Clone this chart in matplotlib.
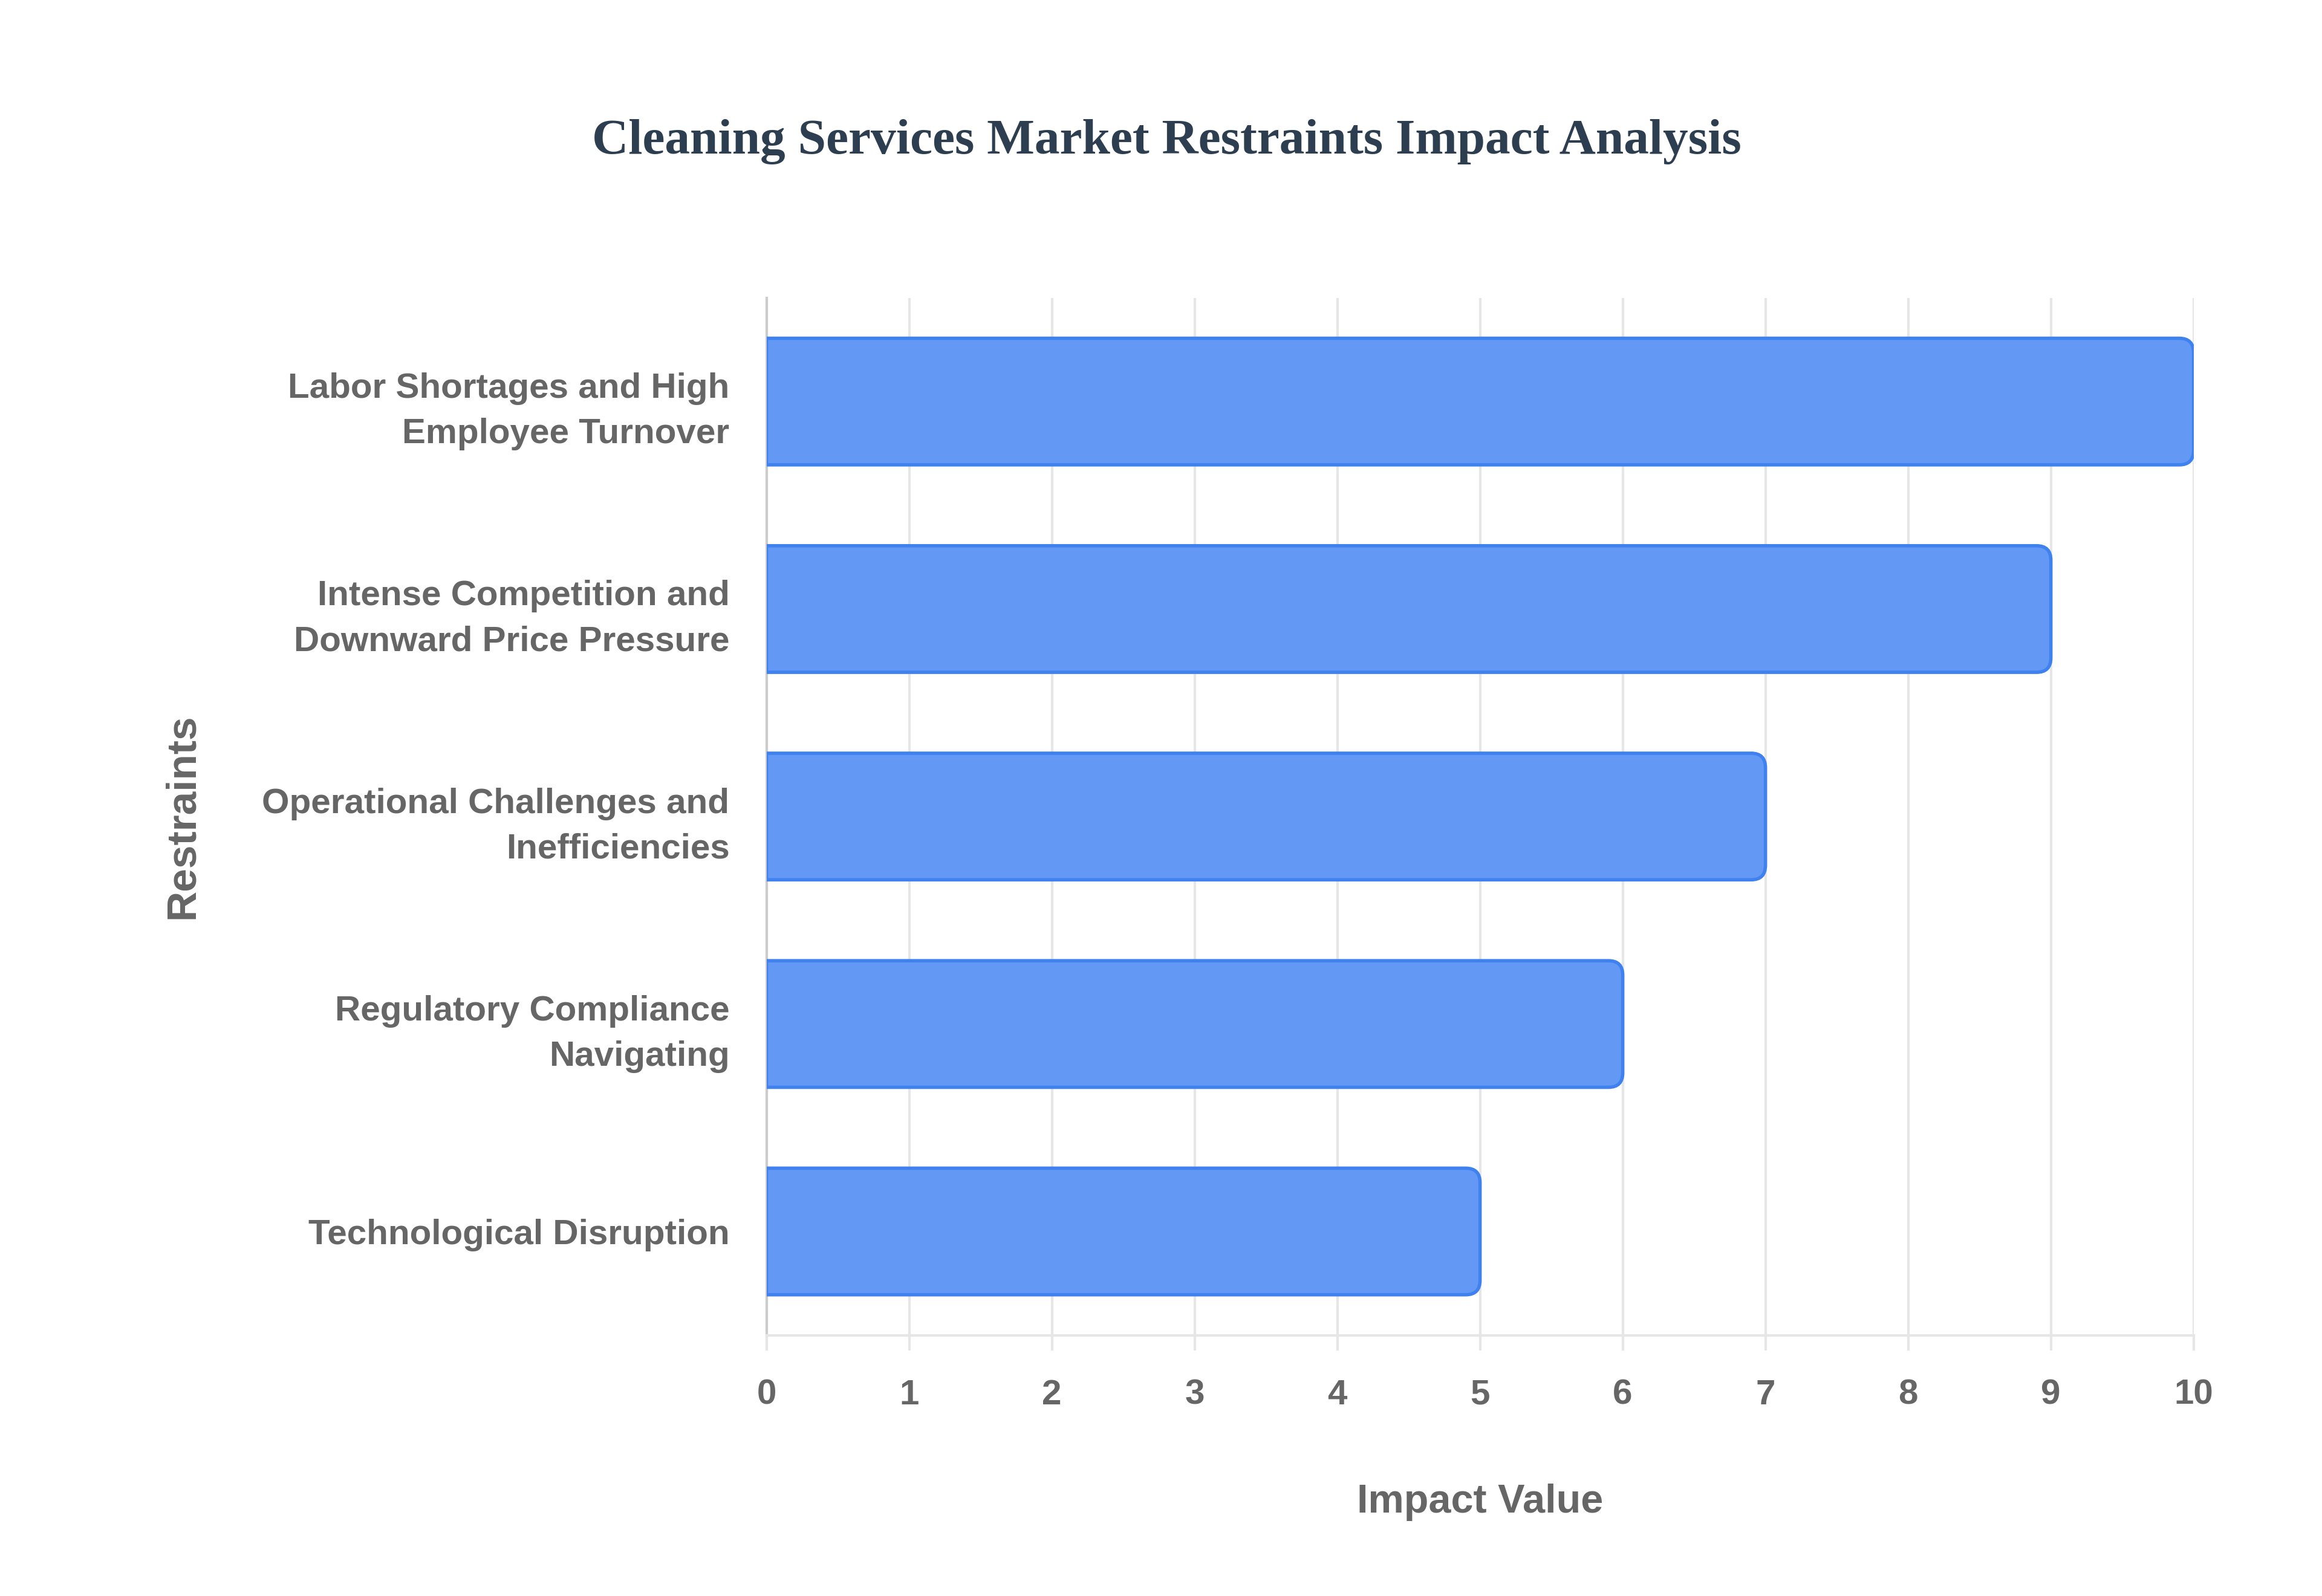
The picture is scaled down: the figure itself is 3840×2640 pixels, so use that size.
import matplotlib
matplotlib.use("Agg")
import matplotlib.pyplot as plt
from matplotlib.path import Path
from matplotlib.patches import PathPatch

restraints = [
    "Labor Shortages and High\nEmployee Turnover",
    "Intense Competition and\nDownward Price Pressure",
    "Operational Challenges and\nInefficiencies",
    "Regulatory Compliance\nNavigating",
    "Technological Disruption",
]
impact = [10, 9, 7, 6, 5]
x_ticks = list(range(0, 11))

LABEL_FONT = ["Liberation Sans", "DejaVu Sans"]
GREY = "#666666"
FILL = "#6399f4"
EDGE = "#3f81ef"


def rounded_bar(ax, y, w, h, rx, ry):
    """Bar from 0 to w, rounded on the right end only."""
    y0, y1 = y - h / 2, y + h / 2
    verts = [(0, y0), (w - rx, y0), (w, y0), (w, y0 + ry),
             (w, y1 - ry), (w, y1), (w - rx, y1), (0, y1), (0, y0)]
    codes = [Path.MOVETO, Path.LINETO, Path.CURVE3, Path.CURVE3,
             Path.LINETO, Path.CURVE3, Path.CURVE3, Path.LINETO, Path.CLOSEPOLY]
    patch = PathPatch(Path(verts, codes), facecolor=FILL, edgecolor=EDGE,
                      linewidth=2.0, zorder=3)
    ax.add_patch(patch)


fig = plt.figure(figsize=(19.2, 13.2), dpi=200)
ax = fig.add_axes([0.3301, 0.1634, 0.6146, 0.650])

ypos = list(range(len(restraints)))
for y, val in zip(ypos, impact):
    rounded_bar(ax, y, val, 0.61, 0.1, 0.07)

ax.set_xlim(0, 10)
ax.set_ylim(len(restraints) - 0.5, -0.5)
ax.set_yticks(ypos)
ax.set_yticklabels(restraints, fontfamily=LABEL_FONT, fontweight="bold",
                   fontsize=21, color=GREY, linespacing=1.5)
ax.set_xticks(x_ticks)
ax.set_xticklabels([str(t) for t in x_ticks], fontfamily=LABEL_FONT,
                   fontweight="bold", fontsize=21, color=GREY)

ax.tick_params(axis="y", length=0, pad=22)
ax.tick_params(axis="x", length=9, width=1.5, color="#e6e6e6", pad=17)
ax.grid(axis="x", color="#e6e6e6", linewidth=1.5, zorder=0)
ax.set_axisbelow(True)
for side in ("top", "right"):
    ax.spines[side].set_visible(False)
ax.spines["bottom"].set_color("#e6e6e6")
ax.spines["bottom"].set_linewidth(1.5)
ax.spines["left"].set_color("#cccccc")
ax.spines["left"].set_linewidth(1.5)

ax.set_xlabel("Impact Value", fontfamily=LABEL_FONT, fontweight="bold",
              fontsize=24, color=GREY, labelpad=43)
ax.set_ylabel("Restraints", fontfamily=LABEL_FONT, fontweight="bold",
              fontsize=25, color=GREY, labelpad=36)

fig.text(0.5025, 0.911, "Cleaning Services Market Restraints Impact Analysis",
         ha="center", va="center", fontfamily="Liberation Serif",
         fontweight="bold", fontsize=30, color="#2c3e50")

fig.savefig("out.png", dpi=200, facecolor="white")
